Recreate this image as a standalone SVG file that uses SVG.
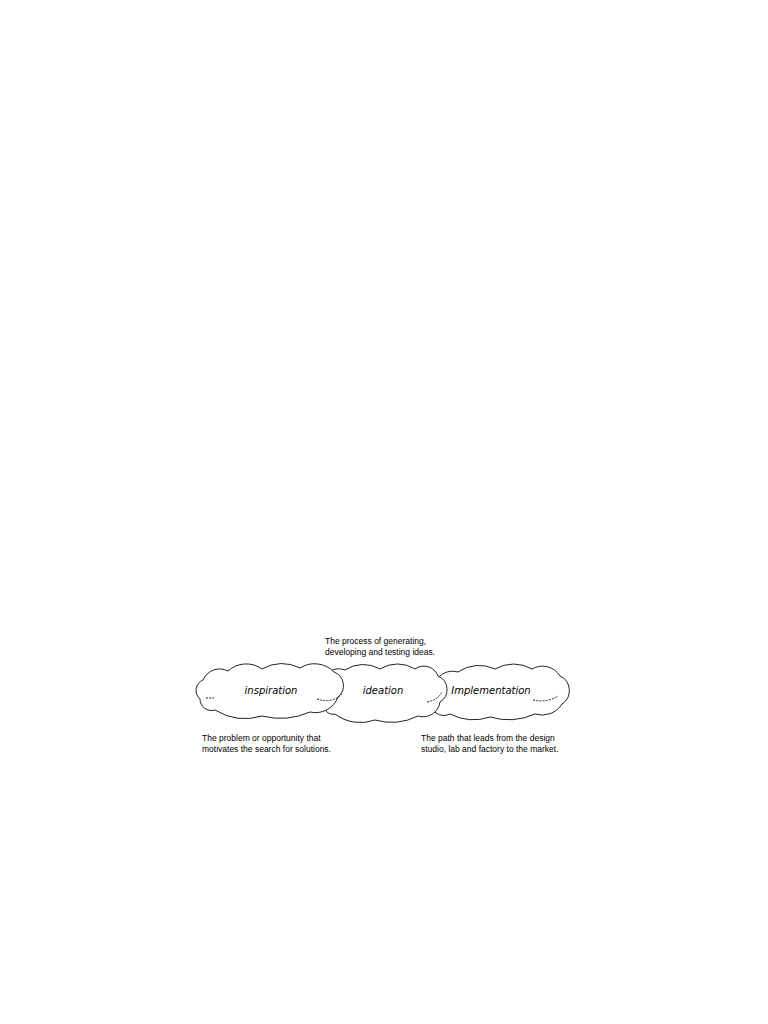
<svg xmlns="http://www.w3.org/2000/svg" width="768" height="1024" viewBox="0 0 768 1024">
<style>
.cloud{fill:#fff;stroke:#222;stroke-width:1}
.inner{fill:none;stroke:#222;stroke-width:1;stroke-dasharray:2 1.2}
.lbl{font-family:"DejaVu Sans",sans-serif;font-style:italic;font-size:10px;fill:#000;text-anchor:middle}
.desc{font-family:"Liberation Sans",Arial,sans-serif;font-size:8.5px;fill:#000}
</style>
<rect width="768" height="1024" fill="#fff"/>
<g id="implementation">
<path class="cloud" d="M432,708 A13,13 0 0 1 434,686 A19,19 0 0 1 458,672 A37,37 0 0 1 495,669 A37,37 0 0 1 532,669 A20.5,20.5 0 0 1 560,676 A16,16 0 0 1 562,704 A23.5,23.5 0 0 1 535,714 A65,65 0 0 1 490,717 A52,52 0 0 1 450,714 A13,13 0 0 1 432,708 Z"/>
<path class="inner" d="M533,700 Q548,703 558,696"/>
<text class="lbl" x="491" y="694">Implementation</text>
</g>
<g id="ideation">
<path class="cloud" d="M324,704 A12,12 0 0 1 322,683 A17,17 0 0 1 345,670 A33,33 0 0 1 380,669 A33,33 0 0 1 415,669 A15,15 0 0 1 438,676 A14.6,14.6 0 0 1 440,702 A17,17 0 0 1 418,716 A60,60 0 0 1 375,720 A42,42 0 0 1 335,714 A9,9 0 0 1 324,704 Z"/>
<path class="inner" d="M427,702 Q438,700 442,692"/>
<text class="lbl" x="383" y="694">ideation</text>
</g>
<g id="inspiration">
<path class="cloud" d="M200,699 A11.3,11.3 0 0 1 203,680 A18,18 0 0 1 228,671 A27,27 0 0 1 262,669 A39,39 0 0 1 300,668 A27,27 0 0 1 334,672 A14.6,14.6 0 0 1 338,697 A24,24 0 0 1 310,712 A74,74 0 0 1 262,716 A58,58 0 0 1 215,710 A11.5,11.5 0 0 1 200,699 Z"/>
<path class="inner" d="M317,699 Q332,704 342,694"/>
<path class="inner" d="M206,698 L214,698"/>
<text class="lbl" x="271" y="694">inspiration</text>
</g>
<g id="notes">
<text class="desc" x="325" y="644">The process of generating,</text>
<text class="desc" x="325" y="655">developing and testing ideas.</text>
<text class="desc" x="202" y="741">The problem or opportunity that</text>
<text class="desc" x="202" y="752">motivates the search for solutions.</text>
<text class="desc" x="421" y="741">The path that leads from the design</text>
<text class="desc" x="421" y="752">studio, lab and factory to the market.</text>
</g>
</svg>
